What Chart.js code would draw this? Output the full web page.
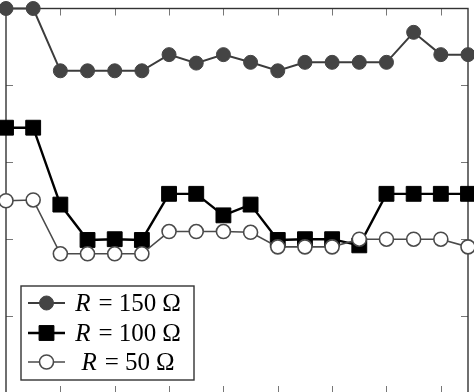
<!DOCTYPE html>
<html>
<head>
<meta charset="utf-8">
<script src="https://cdn.jsdelivr.net/npm/chart.js@4.4.0/dist/chart.umd.min.js"></script>
<style>
  html, body { margin: 0; padding: 0; background: #fff; }
  #wrap { width: 474px; height: 392px; overflow: hidden; }
  #wrap canvas { display: block; }
</style>
</head>
<body>
<div id="wrap"><canvas id="chart" width="474" height="400"></canvas></div>
<script>
// Sample index along the x axis (the frame is cropped, so no tick labels are visible)
const samples = [1, 2, 3, 4, 5, 6, 7, 8, 9, 10, 11, 12, 13, 14, 15, 16, 17, 18];

// Series values (y axis in arbitrary units 0..5)
const r150 = [5.0, 5.0, 4.19, 4.19, 4.19, 4.19, 4.40, 4.29, 4.40, 4.30, 4.19, 4.30, 4.30, 4.30, 4.30, 4.69, 4.40, 4.40];
const r100 = [3.45, 3.45, 2.45, 1.99, 2.0, 1.99, 2.59, 2.59, 2.31, 2.45, 1.99, 2.0, 2.0, 1.92, 2.59, 2.59, 2.59, 2.59];
const r50 = [2.50, 2.51, 1.81, 1.81, 1.81, 1.81, 2.10, 2.10, 2.10, 2.09, 1.90, 1.90, 1.90, 2.0, 2.0, 2.0, 2.0, 1.90];

const seriesNames = ["150", "100", "50"];

// Tick positions (inward marks only, labels cropped away)
const xTickAt = [3, 5, 7, 9, 11, 13, 15, 17];
const yTickAt = [1, 2, 3, 4];

const frameColor = "#333";
const tickColor = "#777";

// Box + inward tick marks on all four sides, drawn under the data
const framePlugin = {
  id: "frame",
  beforeDatasetsDraw(chart) {
    const { ctx, chartArea: a, scales } = chart;
    ctx.save();
    ctx.strokeStyle = tickColor;
    ctx.lineWidth = 1;
    const len = 7;
    xTickAt.forEach((v) => {
      const px = Math.round(scales.x.getPixelForValue(samples.indexOf(v))) + 0.5;
      ctx.beginPath();
      ctx.moveTo(px, a.top); ctx.lineTo(px, a.top + len);
      ctx.moveTo(px, a.bottom); ctx.lineTo(px, a.bottom - len);
      ctx.stroke();
    });
    yTickAt.forEach((v) => {
      const py = Math.round(scales.y.getPixelForValue(v)) + 0.5;
      ctx.beginPath();
      ctx.moveTo(a.left, py); ctx.lineTo(a.left + len, py);
      ctx.moveTo(a.right, py); ctx.lineTo(a.right - len, py);
      ctx.stroke();
    });
    ctx.strokeStyle = frameColor;
    ctx.lineWidth = 1.4;
    ctx.strokeRect(a.left, a.top, a.right - a.left, a.bottom - a.top);
    ctx.restore();
  },
};

// pgfplots-style legend box in the lower left corner
const legendPlugin = {
  id: "boxLegend",
  afterDraw(chart) {
    const { ctx } = chart;
    const box = { x: 21, y: 286, w: 173, h: 94 };
    ctx.save();
    ctx.fillStyle = "#fff";
    ctx.fillRect(box.x, box.y, box.w, box.h);
    ctx.strokeStyle = "#333";
    ctx.lineWidth = 1.4;
    ctx.strokeRect(box.x, box.y, box.w, box.h);

    const rows = [303, 333, 362];
    chart.data.datasets.forEach((ds, i) => {
      const y = rows[i];
      ctx.strokeStyle = ds.borderColor;
      ctx.lineWidth = ds.borderWidth;
      ctx.beginPath();
      ctx.moveTo(28, y); ctx.lineTo(65, y);
      ctx.stroke();
      ctx.fillStyle = ds.pointBackgroundColor;
      ctx.strokeStyle = ds.pointBorderColor;
      ctx.lineWidth = ds.pointBorderWidth;
      ctx.beginPath();
      if (ds.pointStyle === "rect") {
        const s = ds.pointRadius * Math.SQRT1_2;
        ctx.rect(46.5 - s, y - s, 2 * s, 2 * s);
      } else {
        ctx.arc(46.5, y, ds.pointRadius, 0, Math.PI * 2);
      }
      ctx.fill();
      ctx.stroke();

      // "R = 150 Ω" with italic R, centred in the text column
      const fs = 25;
      const it = "italic " + fs + "px 'Liberation Serif', serif";
      const up = fs + "px 'Liberation Serif', serif";
      ctx.font = it;
      const wR = ctx.measureText("R").width;
      ctx.font = up;
      const wEq = ctx.measureText("=").width;
      const wNum = ctx.measureText(seriesNames[i]).width;
      const wOm = ctx.measureText("\u03A9").width;
      const g1 = 8, g2 = 6, g3 = 6;
      const total = wR + g1 + wEq + g2 + wNum + g3 + wOm;
      let x = 128 - total / 2;
      ctx.fillStyle = "#000";
      ctx.textBaseline = "middle";
      ctx.textAlign = "left";
      ctx.font = it;
      ctx.fillText("R", x, y + 1);
      x += wR + g1;
      ctx.font = up;
      ctx.fillText("=", x, y + 1);
      x += wEq + g2;
      ctx.fillText(seriesNames[i], x, y + 1);
      x += wNum + g3;
      ctx.fillText("\u03A9", x, y + 1);
    });
    ctx.restore();
  },
};

new Chart(document.getElementById("chart"), {
  type: "line",
  data: {
    labels: samples,
    datasets: [
      {
        label: "R = 150 \u03A9",
        data: r150,
        order: 2,
        borderColor: "#3c3c3c",
        borderWidth: 2,
        pointStyle: "circle",
        pointRadius: 7,
        pointBorderWidth: 1,
        pointBackgroundColor: "#444",
        pointBorderColor: "#444",
        clip: false,
      },
      {
        label: "R = 100 \u03A9",
        data: r100,
        order: 1,
        borderColor: "#000",
        borderWidth: 2.4,
        pointStyle: "rect",
        pointRadius: 10.5,
        pointBorderWidth: 1,
        pointBackgroundColor: "#000",
        pointBorderColor: "#000",
        clip: false,
      },
      {
        label: "R = 50 \u03A9",
        data: r50,
        order: 0,
        borderColor: "#4a4a4a",
        borderWidth: 1.6,
        pointStyle: "circle",
        pointRadius: 7,
        pointBorderWidth: 1.6,
        pointBackgroundColor: "#fff",
        pointBorderColor: "#4a4a4a",
        clip: false,
      },
    ],
  },
  options: {
    responsive: false,
    animation: false,
    events: [],
    layout: { autoPadding: false, padding: { left: 6, right: 6, top: 8.5, bottom: 7 } },
    elements: { line: { tension: 0 } },
    scales: {
      x: { type: "category", offset: false, display: false },
      y: { type: "linear", min: 0, max: 5, display: false },
    },
    plugins: {
      legend: { display: false },
      tooltip: { enabled: false },
    },
  },
  plugins: [framePlugin, legendPlugin],
});
</script>
</body>
</html>
